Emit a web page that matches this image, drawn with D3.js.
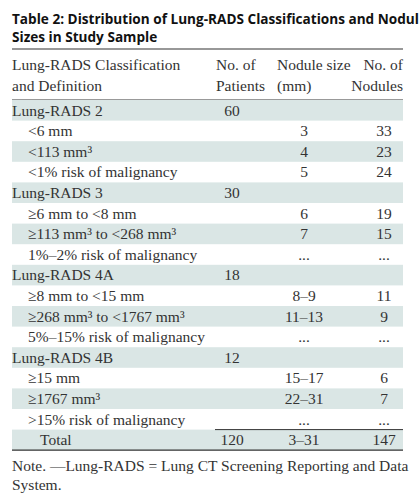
<!DOCTYPE html><html><head><meta charset="utf-8"><script src="https://cdn.jsdelivr.net/npm/d3@7"></script>
<style>body{margin:0;background:#fff}</style></head><body><svg id="c" width="419" height="500"></svg><script>
const labels=["Lung-RADS 2","<6 mm","<113 mm³","<1% risk of malignancy","Lung-RADS 3","≥6 mm to <8 mm","≥113 mm³ to <268 mm³","1%–2% risk of malignancy","Lung-RADS 4A","≥8 mm to <15 mm","≥268 mm³ to <1767 mm³","5%–15% risk of malignancy","Lung-RADS 4B","≥15 mm","≥1767 mm³",">15% risk of malignancy","Total"];
const indent=[0,1,1,1,0,1,1,1,0,1,1,1,0,1,1,1,1];
const patients=["60","","","","30","","","","18","","","","12","","","","120"];
const sizes=["","3","4","5","","6","7","...","","8–9","11–13","...","","15–17","22–31","...","3–31"];
const nodules=["","33","23","24","","19","15","...","","11","9","...","","6","7","...","147"];
const svg=d3.select("#c");
const L=12,R=403,T0=100,rh=20.6;
const y=d3.scaleBand().domain(d3.range(labels.length)).range([T0,T0+rh*labels.length]);
svg.append("text").attr("x",L).attr("y",24).attr("font-family","Open Sans").attr("font-weight","bold").attr("font-size",13.6).attr("fill","#111").text("Table 2: Distribution of Lung-RADS Classifications and Nodule");
svg.append("text").attr("x",L).attr("y",42).attr("font-family","Open Sans").attr("font-weight","bold").attr("font-size",13.6).attr("fill","#111").text("Sizes in Study Sample");
const f="Liberation Serif",fs=15.5,col="#333";
svg.append("line").attr("x1",L).attr("x2",R).attr("y1",49).attr("y2",49).attr("stroke","#333").attr("stroke-width",1.2);
const hd=[[L,"start","Lung-RADS Classification","and Definition"],[216,"start","No. of","Patients"],[277,"start","Nodule size","(mm)"],[R,"end","No. of","Nodules"]];
hd.forEach(h=>{[h[2],h[3]].forEach((t,i)=>svg.append("text").attr("x",h[0]).attr("y",70+i*21).attr("text-anchor",h[1]).attr("font-family",f).attr("font-size",fs).attr("fill",col).text(t));});
svg.append("line").attr("x1",L).attr("x2",R).attr("y1",T0).attr("y2",T0).attr("stroke","#333").attr("stroke-width",1);
const g=svg.selectAll("g.r").data(labels).join("g").attr("transform",(d,i)=>`translate(0,${y(i)})`);
g.filter((d,i)=>i%2==0).append("rect").attr("x",L).attr("width",R-L).attr("height",y.bandwidth()).attr("fill","#dae6e5");
g.append("text").attr("x",(d,i)=>i==16?40:(indent[i]?28:L)).attr("y",15.5).attr("font-family",f).attr("font-size",fs).attr("fill",col).text(d=>d);
g.append("text").attr("x",232).attr("y",15.5).attr("text-anchor","middle").attr("font-family",f).attr("font-size",fs).attr("fill",col).text((d,i)=>patients[i]);
g.append("text").attr("x",304).attr("y",15.5).attr("text-anchor","middle").attr("font-family",f).attr("font-size",fs).attr("fill",col).text((d,i)=>sizes[i]);
g.append("text").attr("x",384).attr("y",15.5).attr("text-anchor","middle").attr("font-family",f).attr("font-size",fs).attr("fill",col).text((d,i)=>nodules[i]);
svg.append("line").attr("x1",215).attr("x2",R).attr("y1",y(16)).attr("y2",y(16)).attr("stroke","#333");
const yb=y(16)+y.bandwidth();
svg.append("line").attr("x1",L).attr("x2",R).attr("y1",yb).attr("y2",yb).attr("stroke","#333").attr("stroke-width",1.2);
svg.append("text").attr("x",L).attr("y",yb+21).attr("font-family",f).attr("font-size",fs).attr("fill",col).text("Note. —Lung-RADS = Lung CT Screening Reporting and Data");
svg.append("text").attr("x",L).attr("y",yb+40).attr("font-family",f).attr("font-size",fs).attr("fill",col).text("System.");
</script></body></html>
